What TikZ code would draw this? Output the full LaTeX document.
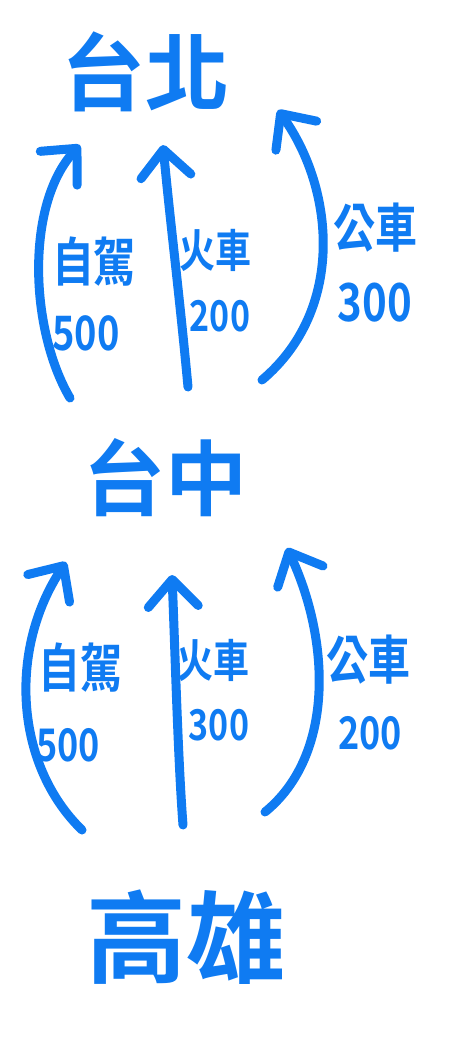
\documentclass[tikz,border=0pt]{standalone}
\usepackage{fontspec}
\newfontfamily\cjk{Noto Sans CJK TC Bold}
\usetikzlibrary{arrows.meta}
\definecolor{ink}{HTML}{0F7BF2}
\tikzset{
  city/.style={text=ink, inner sep=0pt, font=\cjk\fontsize{#1}{#1}\selectfont},
  lbl/.style={text=ink, inner sep=0pt, yscale=1.25, transform shape, font=\cjk\fontsize{#1}{#1}\selectfont},
  route/.style={draw=ink, line width=9pt, line cap=round, line join=round,
    -{Straight Barb[length=27pt,width=50pt,line width=9pt,round]}},
}
\begin{document}
\begin{tikzpicture}[x=1pt,y=-1pt]
\useasboundingbox (0,0) rectangle (469,1037);
% cities
\node[city=84] (taipei) at (145,72) {台北};
\node[city=82] (taichung) at (165,478) {台中};
\node[city=100] (kaohsiung) at (186,937) {高雄};
% upper arrow end points
\coordinate (u1s) at (70,398);  \coordinate (u1e) at (80,145);
\coordinate (u2s) at (188,387); \coordinate (u2e) at (163,145);
\coordinate (u3s) at (262,380); \coordinate (u3e) at (278,110);
% lower arrow end points
\coordinate (l1s) at (82,830);  \coordinate (l1e) at (66,562);
\coordinate (l2s) at (183,825); \coordinate (l2e) at (172,575);
\coordinate (l3s) at (265,812); \coordinate (l3e) at (287,548);
% arrows Taichung -> Taipei
\draw[route] (u1s) .. controls (30,330) and (25,205) .. (u1e);
\draw[route] (u2s) .. controls (180,300) and (170,220) .. (u2e);
\draw[route] (u3s) .. controls (345,310) and (335,190) .. (u3e);
% arrows Kaohsiung -> Taichung
\draw[route] (l1s) .. controls (15,765) and (8,650) .. (l1e);
\draw[route] (l2s) .. controls (178,760) and (175,650) .. (l2e);
\draw[route] (l3s) .. controls (335,755) and (330,640) .. (l3e);
% labels upper
\node[lbl=42] (a1) at (94,262) {自駕};
\node[lbl=38] (a1n) at (86,333) {500};
\node[lbl=36] (b1) at (215,250) {火車};
\node[lbl=34] (b1n) at (220,316) {200};
\node[lbl=42] (c1) at (375,228) {公車};
\node[lbl=42] (c1n) at (375,303) {300};
% labels lower
\node[lbl=42] (a2) at (80,668) {自駕};
\node[lbl=36] (a2n) at (68,745) {500};
\node[lbl=36] (b2) at (213,660) {火車};
\node[lbl=34] (b2n) at (219,725) {300};
\node[lbl=42] (c2) at (368,660) {公車};
\node[lbl=36] (c2n) at (370,733) {200};
\end{tikzpicture}
\end{document}
